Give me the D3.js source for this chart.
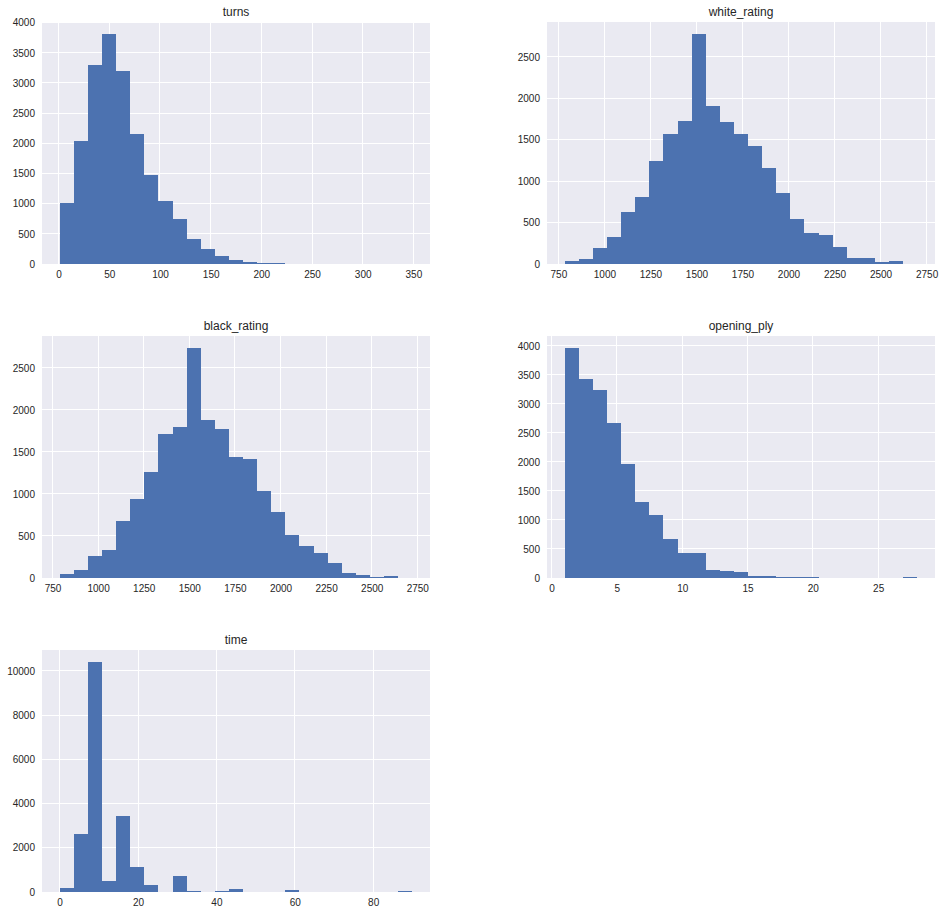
<!DOCTYPE html>
<html>
<head>
<meta charset="utf-8">
<script src="https://cdn.jsdelivr.net/npm/d3@7"></script>
<style>
  html, body { margin: 0; background: #fff; }
  svg { display: block; }
  text { font-family: "Liberation Sans", Arial, sans-serif; fill: #262626; }
</style>
</head>
<body>
<svg id="chart" width="945" height="916"></svg>
<script>
// bin counts, 25 bins each
const turnsCounts = [1011, 2039, 3298, 3820, 3199, 2155, 1475, 1044, 746, 414, 249, 133, 66, 33, 17, 17, 0, 0, 0, 0, 0, 0, 0, 0, 0];
const whiteCounts = [35, 60, 194, 327, 629, 810, 1246, 1573, 1730, 2782, 1911, 1718, 1573, 1427, 1161, 859, 544, 375, 351, 206, 73, 73, 24, 36, 0];
const blackCounts = [48, 95, 262, 334, 680, 942, 1264, 1717, 1800, 2742, 1884, 1777, 1443, 1419, 1037, 787, 513, 382, 298, 179, 60, 36, 12, 24, 0];
const plyCounts = [3971, 3436, 3246, 2676, 1968, 1312, 1088, 673, 432, 432, 138, 121, 104, 35, 35, 17, 17, 17, 0, 0, 0, 0, 0, 0, 17];
const timeCounts = [181, 2628, 10423, 498, 3444, 1133, 317, 0, 725, 45, 0, 45, 136, 0, 0, 0, 91, 0, 0, 0, 0, 0, 0, 0, 45];

// data range of each column
const turnsRange = [1, 349];
const whiteRange = [784, 2700];
const blackRange = [789, 2723];
const plyRange = [1, 28];
const timeRange = [0, 90];

// tick labels
const turnsXTicks = [0, 50, 100, 150, 200, 250, 300, 350];
const turnsYTicks = [0, 500, 1000, 1500, 2000, 2500, 3000, 3500, 4000];
const ratingXTicks = [750, 1000, 1250, 1500, 1750, 2000, 2250, 2500, 2750];
const ratingYTicks = [0, 500, 1000, 1500, 2000, 2500];
const plyXTicks = [0, 5, 10, 15, 20, 25];
const plyYTicks = [0, 500, 1000, 1500, 2000, 2500, 3000, 3500, 4000];
const timeXTicks = [0, 20, 40, 60, 80];
const timeYTicks = [0, 2000, 4000, 6000, 8000, 10000];

const svg = d3.select("#chart");

const panelW = 388;
const panelH = 242;

function drawHist(cfg) {
  const g = svg.append("g").attr("transform", `translate(${cfg.left},${cfg.top})`);

  // matplotlib style margins: 5% each side on x, 5% on top of y
  const [lo, hi] = cfg.range;
  const pad = (hi - lo) * 0.05;
  const x = d3.scaleLinear().domain([lo - pad, hi + pad]).range([0, panelW]);
  const y = d3.scaleLinear().domain([0, d3.max(cfg.counts) * 1.05]).range([panelH, 0]);
  const binW = (hi - lo) / cfg.counts.length;

  g.append("rect")
    .attr("width", panelW)
    .attr("height", panelH)
    .attr("fill", "#EAEAF2");

  // grid
  g.selectAll(".gx")
    .data(cfg.xTicks)
    .join("line")
    .attr("x1", d => x(d))
    .attr("x2", d => x(d))
    .attr("y1", 0)
    .attr("y2", panelH)
    .attr("stroke", "#fff")
    .attr("stroke-width", 1)
    .attr("shape-rendering", "crispEdges");

  g.selectAll(".gy")
    .data(cfg.yTicks)
    .join("line")
    .attr("x1", 0)
    .attr("x2", panelW)
    .attr("y1", d => y(d))
    .attr("y2", d => y(d))
    .attr("stroke", "#fff")
    .attr("stroke-width", 1)
    .attr("shape-rendering", "crispEdges");

  // bars
  g.selectAll(".bar")
    .data(cfg.counts)
    .join("rect")
    .attr("class", "bar")
    .attr("x", (d, i) => x(lo + i * binW))
    .attr("width", x(lo + binW) - x(lo))
    .attr("y", d => y(d))
    .attr("height", d => panelH - y(d))
    .attr("fill", "#4C72B0")
    .attr("shape-rendering", "crispEdges");

  // axes, no tick marks or domain line in this style
  const xAxis = g.append("g")
    .attr("transform", `translate(0,${panelH})`)
    .call(d3.axisBottom(x).tickValues(cfg.xTicks).tickSize(0).tickPadding(7).tickFormat(d3.format("d")));
  const yAxis = g.append("g")
    .call(d3.axisLeft(y).tickValues(cfg.yTicks).tickSize(0).tickPadding(7).tickFormat(d3.format("d")));

  [xAxis, yAxis].forEach(a => {
    a.select(".domain").remove();
    a.selectAll("text")
      .style("font-family", '"Liberation Sans", Arial, sans-serif')
      .style("font-size", "10px")
      .style("fill", "#262626");
  });

  g.append("text")
    .attr("x", panelW / 2)
    .attr("y", -6)
    .attr("text-anchor", "middle")
    .style("font-size", "12px")
    .text(cfg.title);
}

const panels = [
  { title: "turns", counts: turnsCounts, range: turnsRange, xTicks: turnsXTicks, yTicks: turnsYTicks, left: 42, top: 22 },
  { title: "white_rating", counts: whiteCounts, range: whiteRange, xTicks: ratingXTicks, yTicks: ratingYTicks, left: 547, top: 22 },
  { title: "black_rating", counts: blackCounts, range: blackRange, xTicks: ratingXTicks, yTicks: ratingYTicks, left: 42, top: 336 },
  { title: "opening_ply", counts: plyCounts, range: plyRange, xTicks: plyXTicks, yTicks: plyYTicks, left: 547, top: 336 },
  { title: "time", counts: timeCounts, range: timeRange, xTicks: timeXTicks, yTicks: timeYTicks, left: 42, top: 650 }
];

panels.forEach(drawHist);
</script>
</body>
</html>
